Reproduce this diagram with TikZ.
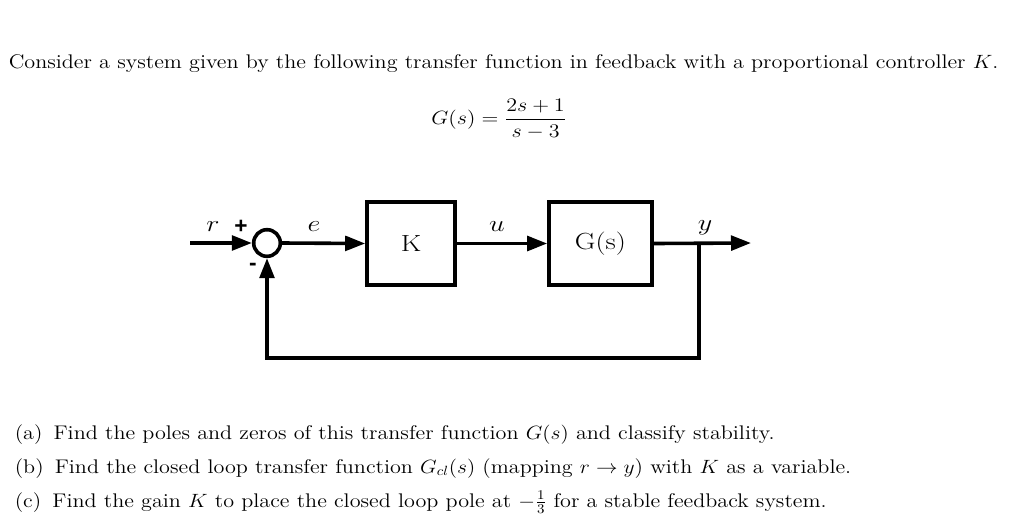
\documentclass[tikz,border=0pt]{standalone}
\usepackage{fontspec}
\usepackage{amsmath}
\newfontfamily\signfont{Liberation Sans}
\usetikzlibrary{arrows.meta}
\newcommand{\hstr}[1]{\scalebox{1.122}[1]{#1}}
\newcommand{\bstr}[1]{\scalebox{1.22}[1]{#1}}
\begin{document}
\begin{tikzpicture}[x=0.75pt,y=-0.75pt,
  line width=2.7pt,
  txt/.style={font=\fontsize{14.8}{17}\selectfont, inner sep=0pt},
  blk/.style={draw, rectangle, minimum height=62.25pt, font=\fontsize{17.5}{20}\selectfont},
  sumc/.style={draw, circle, minimum size=20pt, inner sep=0pt},
  sig/.style={-{Triangle[length=15pt,width=11pt]}},
  lbl/.style={font=\fontsize{16}{19}\selectfont, inner sep=0pt},
  sgn/.style={font=\signfont\bfseries\fontsize{17}{19}\selectfont, inner sep=0pt}]
\useasboundingbox (0,0) rectangle (1024,529);
% texts
\node[txt, anchor=base west] (intro) at (7,68) {\hstr{Consider a system given by the following transfer function in feedback with a proportional controller $K$.}};
\node[txt] (eq) at (499,119) {\scalebox{1.15}[1]{$\displaystyle G(s)=\frac{2s+1}{s-3}$}};
\node[txt, anchor=base west] (qa) at (13,439) {\hstr{(a)\enspace Find the poles and zeros of this transfer function $G(s)$ and classify stability.}};
\node[txt, anchor=base west] (qb) at (13,473) {\hstr{(b)\enspace Find the closed loop transfer function $G_{cl}(s)$ (mapping $r\rightarrow y$) with $K$ as a variable.}};
\node[txt, anchor=base west] (qc) at (13,507) {\hstr{(c)\enspace Find the gain $K$ to place the closed loop pole at $-\tfrac{1}{3}$ for a stable feedback system.}};
% block diagram
\coordinate (in) at (190,243);
\node[sumc] (sum) at (267,243) {};
\node[blk, minimum width=66pt] (K) at (411,243.5) {\bstr{K}};
\node[blk, minimum width=77.25pt] (G) at (600.5,243.5) {\bstr{G(s)}};
\coordinate (br) at (699,243);
\coordinate (out) at (751,243);
\coordinate (fb) at (699,358);
\coordinate (fb2) at (267,358);
\draw[sig] (in) -- (sum.west);
\draw[sig] (sum.east) -- (K.west);
\draw[sig] (K.east) -- (G.west);
\draw[sig] (G.east) -- (out);
\draw[sig] (br) -- (fb) -- (fb2) -- (sum.south);
% labels
\node[lbl] (lr) at (213,227) {\bstr{$r$}};
\node[sgn] (lp) at (241,227) {+};
\node[sgn] (lm) at (253,267) {-};
\node[lbl] (le) at (314,227) {\bstr{$e$}};
\node[lbl] (lu) at (497,227) {\bstr{$u$}};
\node[lbl] (ly) at (705,228) {\bstr{$y$}};
\end{tikzpicture}
\end{document}
